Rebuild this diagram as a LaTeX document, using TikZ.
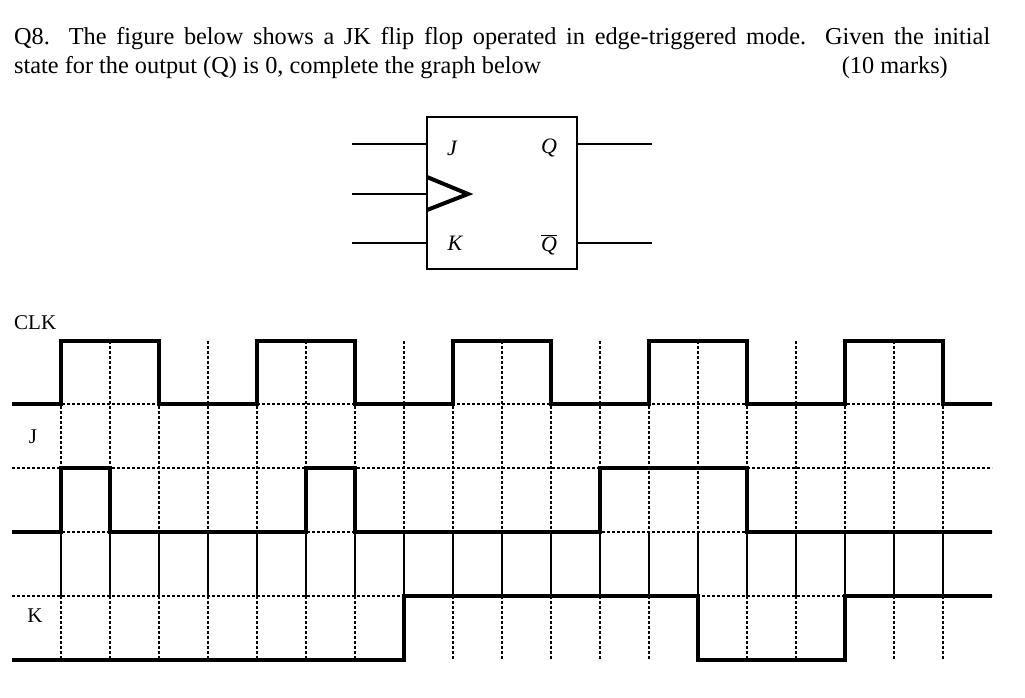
\documentclass[tikz,border=0pt]{standalone}
\usepackage{fontspec}
\setmainfont{Liberation Serif}
\begin{document}
\begin{tikzpicture}[x=1pt,y=-1pt,
  wave/.style={line width=3.2pt},
  grid/.style={line width=1.3pt, dash pattern=on 3pt off 2pt},
  gsolid/.style={line width=1.6pt},
  ff/.style={line width=2pt},
  txt/.style={inner sep=0pt, font=\fontsize{24.3}{26}\selectfont}]
\useasboundingbox (0,0) rectangle (1025,697);
% title
\node[txt, anchor=base west] (t1) at (14,44) {\hbox to 976pt{Q8. The figure below shows a JK flip flop operated in edge-triggered mode. Given the initial}};
\node[txt, anchor=base west] (t2) at (14,73) {state for the output (Q) is 0, complete the graph below};
\node[txt, anchor=base east] (t3) at (948,73) {(10 marks)};
% flip flop
\node[draw, ff, minimum width=150pt, minimum height=152pt, inner sep=0pt] (box) at (502,193) {};
\coordinate (ij) at (427,144); \coordinate (ic) at (427,194); \coordinate (ik) at (427,243);
\coordinate (oq) at (577,144); \coordinate (oqb) at (577,243);
\coordinate (lj) at (352,144); \coordinate (lc) at (352,194); \coordinate (lk) at (352,243);
\coordinate (rq) at (652,144); \coordinate (rqb) at (652,243);
\draw[ff] (lj) -- (ij) (lc) -- (ic) (lk) -- (ik) (oq) -- (rq) (oqb) -- (rqb);
\draw[line width=4pt] (427,177) -- (468,194) -- (427,210);
\node[txt, font=\fontsize{22}{24}\selectfont\itshape] (lbJ) at (452,148) {J};
\node[txt, font=\fontsize{22}{24}\selectfont\itshape] (lbQ) at (549,148) {Q};
\node[txt, font=\fontsize{22}{24}\selectfont\itshape] (lbK) at (455,243) {K};
\node[txt, font=\fontsize{22}{24}\selectfont\itshape] (lbQb) at (549,245) {$\overline{\mbox{\itshape Q}}$};
% labels
\node[txt, font=\fontsize{21}{24}\selectfont, anchor=west] (clk) at (14,323) {CLK};
\node[txt, font=\fontsize{21}{24}\selectfont] (jl) at (33,437) {J};
\node[txt, font=\fontsize{21}{24}\selectfont] (kl) at (35,616) {K};
% grid
\foreach \x in {61,110,...,943} {
  \draw[grid] (\x,341) -- (\x,532);
  \draw[gsolid] (\x,532) -- (\x,596);
  \draw[grid] (\x,596) -- (\x,660);
}
\foreach \y in {404,468,532,596} \draw[grid] (12,\y) -- (992,\y);
% waveforms
\draw[wave] (12,404) -- (61,404) -- (61,341) -- (159,341) -- (159,404) -- (257,404) -- (257,341) -- (355,341) -- (355,404)
  -- (453,404) -- (453,341) -- (551,341) -- (551,404) -- (649,404) -- (649,341) -- (747,341) -- (747,404)
  -- (845,404) -- (845,341) -- (943,341) -- (943,404) -- (992,404);
\draw[wave] (12,532) -- (61,532) -- (61,468) -- (110,468) -- (110,532) -- (306,532) -- (306,468) -- (355,468) -- (355,532)
  -- (600,532) -- (600,468) -- (747,468) -- (747,532) -- (992,532);
\draw[wave] (12,660) -- (404,660) -- (404,596) -- (698,596) -- (698,660) -- (845,660) -- (845,596) -- (992,596);
\end{tikzpicture}
\end{document}
